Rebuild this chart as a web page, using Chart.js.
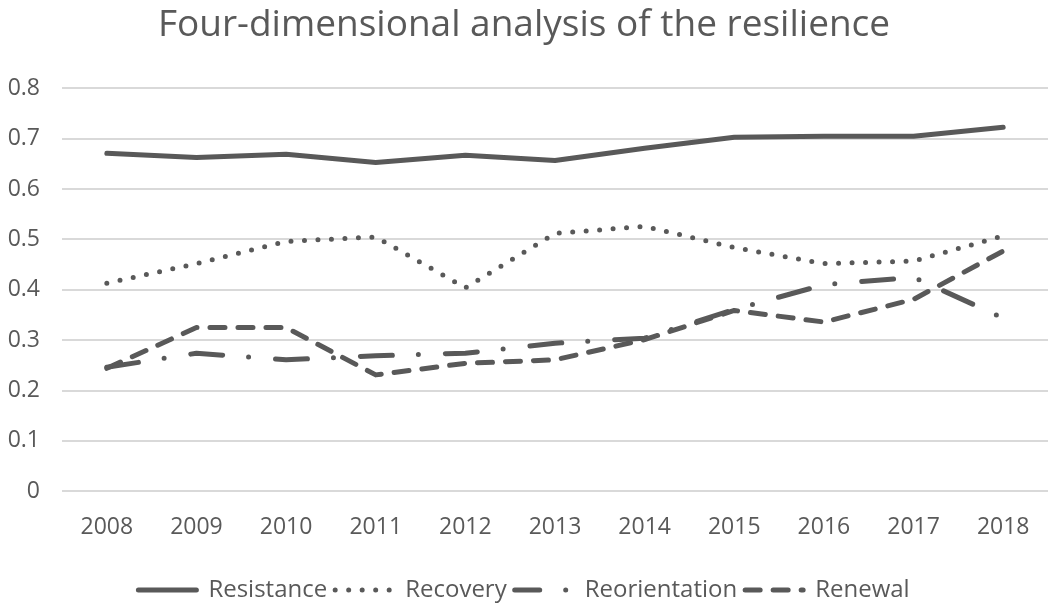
<!DOCTYPE html>
<html>
<head>
<meta charset="utf-8">
<script src="https://cdn.jsdelivr.net/npm/chart.js@4/dist/chart.umd.min.js"></script>
<style>
html,body{margin:0;padding:0;background:#fff;}
#wrap{width:1052px;height:612px;}
</style>
</head>
<body>
<div id="wrap"><canvas id="c"></canvas></div>
<script>
const years = ['2008','2009','2010','2011','2012','2013','2014','2015','2016','2017','2018'];
const resistance = [0.671,0.663,0.669,0.653,0.667,0.657,0.681,0.703,0.705,0.705,0.723];
const recovery = [0.413,0.452,0.496,0.505,0.404,0.512,0.526,0.484,0.452,0.457,0.507];
const reorientation = [0.246,0.274,0.261,0.269,0.274,0.294,0.304,0.361,0.410,0.425,0.344];
const renewal = [0.244,0.325,0.325,0.231,0.254,0.261,0.301,0.359,0.336,0.381,0.477];

const col = '#595959';
const FONT = 'Open Sans';
const legendDashOffsets = [0, 0, 7, 0];
function ds(label, data, dash){
  return {label, data, borderColor: col, backgroundColor: col, borderWidth: 5,
    borderDash: dash, borderCapStyle: 'round', borderJoinStyle: 'round',
    pointRadius: 0, pointHoverRadius: 0, tension: 0, fill: false};
}
new Chart(document.getElementById('c'), {
  type: 'line',
  data: {
    labels: years,
    datasets: [
      ds('Resistance', resistance, []),
      ds('Recovery', recovery, [0, 13.5]),
      ds('Reorientation', reorientation, [32, 26, 0, 27]),
      ds('Renewal', renewal, [15, 13])
    ]
  },
  options: {
    responsive: true, maintainAspectRatio: false, animation: false,
    layout: {padding: {left: 0, right: 4, top: 0, bottom: 0}},
    plugins: {
      title: {display: true, text: 'Four-dimensional analysis of the resilience',
        color: col, font: {family: FONT, size: 37, weight: 'normal'}, padding: {top: 3, bottom: 41}},
      legend: {position: 'bottom', labels: {color: col, usePointStyle: true, pointStyle: 'line',
        pointStyleWidth: 58, padding: 8, font: {family: FONT, size: 24},
        generateLabels: (chart) => chart.data.datasets.map((d, i) => ({
          text: d.label, fillStyle: col, strokeStyle: col, fontColor: col, lineWidth: 5,
          lineDash: d.borderDash, lineDashOffset: legendDashOffsets[i], lineCap: 'round',
          pointStyle: 'line', datasetIndex: i, hidden: false
        }))}},
      tooltip: {enabled: false}
    },
    scales: {
      x: {offset: true, grid: {display: false, drawTicks: false}, border: {display: false},
        title: {display: true, text: ' ', font: {size: 1}, padding: {top: 0, bottom: 6}},
        ticks: {color: col, padding: 22, font: {family: FONT, size: 23}}},
      y: {min: 0, max: 0.8, grid: {color: '#d9d9d9', lineWidth: 2, drawTicks: false},
        border: {display: false},
        afterFit: (s) => { s.width = 62; },
        ticks: {stepSize: 0.1, color: col, padding: 22, font: {family: FONT, size: 23}}}
    }
  }
});
</script>
</body>
</html>
